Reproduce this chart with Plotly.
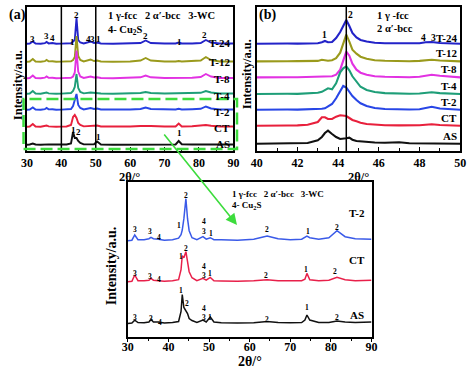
import plotly.graph_objects as go

W, H = 474, 368
FONT = "Liberation Serif"

# ---------------- data ----------------
samples = ["T-24", "T-12", "T-8", "T-4", "T-2", "CT", "AS"]
colors = ["#2323c8", "#9a9a1c", "#e232e2", "#1e9e78", "#2846e6", "#e8203c", "#111111"]

# Panel (a): full range 30-90 deg
xa = [30, 30.8, 31.7, 32.5, 34, 35.2, 35.7, 36.3, 37.4, 38.5, 40, 41.5, 42.8, 43.4, 43.9, 44.4, 44.9,
      45.5, 46.5, 48.5, 49.5, 50.4, 51.5, 55, 60, 63, 64.5, 66, 70, 73.2, 74.1, 75, 78, 80.5, 82,
      83.5, 86, 90]
ia_t24 = [0.3, 0.5, 2.5, 0.5, 0.3, 0.8, 2, 0.6, 1, 0.3, 0.4, 0.5, 0.8, 2.5, 4, 26, 4, 1.5, 0.6, 2.5, 1,
          1.5, 0.5, 0.3, 0.5, 1, 3.5, 1, 0.5, 0.5, 1.5, 0.5, 0.5, 1, 4, 1.5, 0.5, 0.5]
ia_t12 = [0.3, 0.5, 3, 0.5, 0.3, 0.8, 2, 0.6, 0.8, 0.3, 0.4, 0.5, 0.8, 2, 5, 26, 6, 2, 0.6, 2.5, 1,
          1.5, 0.5, 0.3, 0.5, 1.5, 4, 1.5, 0.5, 0.5, 1, 0.5, 0.8, 1.5, 5, 2, 0.5, 0.5]
ia_t8 = [0.3, 0.5, 3, 0.5, 0.3, 0.8, 2, 0.6, 0.8, 0.3, 0.4, 0.5, 0.8, 2, 6, 28, 7, 2, 0.6, 2, 1,
         1.2, 0.5, 0.3, 0.5, 1.2, 3, 1.2, 0.5, 0.5, 1, 0.5, 0.8, 1.5, 4.5, 2, 0.5, 0.5]
ia_t4 = [0.3, 0.5, 3, 0.5, 0.3, 0.8, 1.5, 0.6, 0.8, 0.3, 0.4, 0.5, 1, 3, 7, 20, 6, 2, 0.6, 1.5, 1,
         1.2, 0.5, 0.3, 0.5, 1, 2, 1, 0.5, 0.5, 1, 0.5, 0.8, 1.2, 3, 1.5, 0.5, 0.5]
ia_t2 = [0.3, 0.5, 2.5, 0.5, 0.3, 0.8, 2, 0.6, 0.8, 0.3, 0.4, 0.5, 1, 4, 9, 16, 5, 2, 0.6, 2, 1,
         1.5, 0.5, 0.3, 0.5, 1, 2.5, 1, 0.5, 0.5, 1.2, 0.5, 0.8, 1.2, 3.5, 1.5, 0.5, 0.5]
ia_ct = [0.3, 0.5, 3, 0.5, 0.3, 0.8, 1.5, 0.6, 0.8, 0.3, 0.4, 0.5, 2, 10, 12, 9, 4, 2, 0.6, 1.2, 1,
         1.5, 0.5, 0.3, 0.5, 1, 1.2, 1, 0.5, 0.5, 3.5, 0.5, 0.8, 1.2, 2, 1.2, 0.5, 0.5]
ia_as = [0.3, 0.5, 1.5, 0.5, 0.3, 0.6, 1, 0.6, 0.5, 0.3, 0.3, 0.5, 1.5, 13, 7, 7, 4, 2, 0.6, 1, 0.8,
         3.5, 0.5, 0.3, 0.3, 0.5, 1, 0.5, 0.3, 0.5, 4, 0.8, 0.5, 0.6, 1, 0.6, 0.5, 0.5]
offsets_a = [107, 89, 72.5, 57, 41, 24, 6]

# Panel (b): zoom 40-50 deg
xb = [40, 40.5, 41, 41.5, 42, 42.5, 43, 43.2, 43.35, 43.5, 43.7, 43.9, 44.1, 44.25, 44.4, 44.55,
      44.7, 44.9, 45.1, 45.4, 45.8, 46.3, 47, 47.5, 48, 48.3, 48.6, 49, 49.5, 50]
ib_t24 = [0.3, 0.6, 0.3, 0.5, 0.4, 0.6, 0.8, 1.7, 3, 1.7, 2, 6, 12, 18, 24, 18, 11, 6.5, 4, 2.5,
          1.3, 0.8, 0.6, 0.5, 0.8, 1.7, 2, 1, 0.6, 0.3]
ib_t12 = [0.3, 0.6, 0.3, 0.5, 0.6, 0.5, 0.8, 2, 1.5, 1, 1.5, 3.5, 9, 18, 27, 20, 12, 8, 5, 3,
          1.5, 1, 0.6, 0.5, 0.8, 1.5, 2, 1.2, 0.6, 0.3]
ib_t8 = [0.3, 0.6, 0.3, 0.5, 0.4, 0.6, 0.8, 1, 1.5, 1.5, 1.5, 3, 8, 17, 26, 22, 14, 8, 5, 3,
         1.5, 1, 0.6, 0.5, 1, 2, 3, 2, 0.8, 0.3]
ib_t4 = [0.3, 0.6, 0.3, 0.5, 0.4, 0.6, 1.5, 2.5, 4, 6, 5, 11, 22, 26, 28, 24, 18, 12.5, 7.5, 4.3,
         2.3, 1.2, 0.6, 0.5, 0.8, 1.5, 2, 1.2, 0.6, 0.3]
ib_t2 = [0.3, 0.6, 0.3, 0.5, 0.4, 0.6, 0.8, 1.2, 1.7, 3.3, 6, 11.7, 19, 24, 22.5, 18, 14, 10, 6.7, 4,
         2, 1, 0.6, 0.5, 0.8, 2, 3.3, 1.5, 0.6, 0.3]
ib_ct = [0.3, 0.6, 0.3, 0.5, 0.6, 1.3, 4, 8.7, 8.7, 7, 7, 9.3, 10.7, 10.7, 10, 8, 6, 4.7, 3.3, 2,
         1.2, 0.8, 0.6, 0.5, 0.8, 1.2, 1.7, 1, 0.6, 0.3]
ib_as = [0.3, 0.5, 0.3, 0.5, 0.5, 1, 3.7, 7, 11, 13.3, 10, 7, 5, 5, 5.7, 6.3, 4.3, 3, 2.7, 1.7,
         1.5, 1.2, 1.7, 0.8, 0.6, 0.6, 0.8, 0.6, 0.5, 0.3]
offsets_b = [107, 89.3, 73.3, 56.7, 41, 25, 7]

# Panel (c): T-2, CT, AS enlarged
samples_c = ["T-2", "CT", "AS"]
colors_c = ["#3a5ae8", "#e8204a", "#111111"]
xc = [30, 31, 31.7, 32.5, 34, 35.2, 35.7, 36.3, 37.5, 39, 41, 42.5, 43.1, 43.4, 43.8, 44.3, 44.7,
      45.1, 45.8, 47, 48.5, 49.3, 50.3, 51.2, 53, 57, 61, 64.3, 67, 70, 72.8, 73.6, 74.1, 74.8, 77,
      79.5, 81.5, 83.5, 86, 90]
ic_t2 = [0, 0.5, 5.7, 1, 1, 2, 3.3, 2, 1.5, 0.5, 1, 2.5, 6, 10.7, 22, 42, 22, 10, 3, 1, 4, 1.5, 3,
         1, 1, 0.5, 1.5, 4.7, 2, 1, 1.5, 3, 4.5, 3, 1.5, 3, 10, 4, 2, 1.5]
ic_ct = [0, 0.5, 6.7, 1, 1, 1.5, 3.3, 1.5, 1, 0.5, 1, 2, 12, 26, 24, 30, 20, 10, 4, 1, 3.3, 1.5,
         4.3, 1, 0.8, 0.5, 1, 2, 1, 0.8, 1, 2.5, 8.3, 2, 1, 1.5, 4.3, 2, 1, 1.5]
ic_as = [0, 0.5, 3.3, 1, 0.8, 1.5, 4, 1.5, 1.5, 0.5, 1, 2, 12, 29, 16, 13, 10, 5, 3, 1, 3.5, 1.5,
         6.5, 1.5, 0.8, 0.5, 0.8, 2, 1, 0.8, 1, 3.5, 8.5, 3.5, 1, 1, 2.5, 1.5, 1, 1.5]
offsets_c = [96.3, 55.3, 13.5]

legend_main = "1 γ-fcc   2 α′-bcc   3-WC"
legend_cu = "4- Cu<sub>2</sub>S"

# peak labels: (2theta, y, text)
peaks_a = [(31.6, 112, "3"), (35.8, 115, "3"), (37.5, 113, "4"), (43.2, 109, "1"), (44.3, 136, "2"),
           (48.0, 112, "4"), (49.1, 112, "3"), (50.8, 112, "1"), (64.4, 115, "2"), (74.3, 109, "1"),
           (81.7, 116, "2"), (43.5, 21, "1"), (44.9, 19, "2"), (50.8, 14, "1"), (74.2, 18, "1")]
peaks_b = [(43.35, 116, "1"), (44.6, 136, "2"), (48.2, 113, "4"), (48.7, 113, "3")]
peaks_c = [(31.7, 108, "3"), (35.5, 106, "3"), (37.7, 100, "4"), (42.7, 112, "1"), (44.2, 142, "2"),
           (48.7, 115.5, "4"), (48.7, 106, "3"), (50.4, 104, "1"), (64.3, 108, "2"), (74.4, 106, "1"),
           (81.6, 110, "2"),
           (31.7, 64, "3"), (35.5, 61, "3"), (37.7, 58, "4"), (43.0, 81, "1"), (44.2, 89, "2"),
           (48.7, 71, "4"), (48.7, 61.5, "3"), (50.2, 64, "1"), (64.1, 62, "2"), (73.9, 68, "1"),
           (81.1, 66, "2"),
           (31.7, 20, "3"), (35.8, 19, "3"), (37.9, 15, "4"), (43.0, 47, "1"), (44.6, 34, "2"),
           (48.7, 29, "4"), (48.7, 19.5, "3"), (50.2, 20, "1"), (64.3, 18, "2"), (74.2, 30, "1"),
           (81.4, 20, "2")]
label_y_a = [108, 89, 72, 55, 39, 23, 7]
label_y_b = [112.7, 97.7, 81.7, 65.3, 49.3, 32.7, 15]
label_y_c = [124, 77, 22]

ia = [ia_t24, ia_t12, ia_t8, ia_t4, ia_t2, ia_ct, ia_as]
ib = [ib_t24, ib_t12, ib_t8, ib_t4, ib_t2, ib_ct, ib_as]
ic = [ic_t2, ic_ct, ic_as]

fig = go.Figure()
for name, col, vals, off in zip(samples, colors, ia, offsets_a):
    fig.add_trace(go.Scatter(x=xa, y=[v + off for v in vals], mode="lines", name=name,
                             line=dict(color=col, width=1.9), xaxis="x", yaxis="y"))
for name, col, vals, off in zip(samples, colors, ib, offsets_b):
    fig.add_trace(go.Scatter(x=xb, y=[v + off for v in vals], mode="lines", name=name,
                             line=dict(color=col, width=2.1), xaxis="x2", yaxis="y2"))
for name, col, vals, off in zip(samples_c, colors_c, ic, offsets_c):
    fig.add_trace(go.Scatter(x=xc, y=[v + off for v in vals], mode="lines", name=name,
                             line=dict(color=col, width=1.5), xaxis="x3", yaxis="y3"))

def px(x):
    return x / W

def py(y):
    return 1 - y / H

frame = dict(showline=True, mirror=True, linecolor="black", linewidth=1.5, showgrid=False,
             zeroline=False)
tf = dict(family=FONT, size=12, color="black", weight="bold")

fig.update_layout(
    width=W, height=H, margin=dict(l=0, r=0, t=0, b=0), showlegend=False,
    paper_bgcolor="white", plot_bgcolor="white",
    xaxis=dict(domain=[px(21.5), px(233.3)], range=[30, 90], anchor="y", tickvals=[30, 40, 50, 60, 70, 80, 90],
               ticks="inside", ticklen=4, tickwidth=1.2, tickcolor="black", tickfont=tf,
               ticklabelstandoff=0,
               minor=dict(tickvals=[35, 45, 55, 65, 75, 85], ticks="inside", ticklen=3, tickcolor="black"),
               **frame),
    yaxis=dict(domain=[py(151), py(7)], range=[0, 144], anchor="x", showticklabels=False, ticks="",
               **frame),
    xaxis2=dict(domain=[px(257.3), px(466)], range=[40, 50], anchor="y2", tickvals=[40, 42, 44, 46, 48, 50],
                ticks="inside", ticklen=4, tickwidth=1.2, tickcolor="black", tickfont=tf,
                ticklabelstandoff=0,
                minor=dict(tickvals=[41, 43, 45, 47, 49], ticks="inside", ticklen=3, tickcolor="black"),
                **frame),
    yaxis2=dict(domain=[py(151), py(7)], range=[0, 144], anchor="x2", showticklabels=False, ticks="",
                **frame),
    xaxis3=dict(domain=[px(125), px(375)], range=[30, 90], anchor="y3", tickvals=[30, 40, 50, 60, 70, 80, 90],
                ticks="outside", ticklen=3, tickwidth=1.2, tickcolor="black",
                tickfont=dict(family=FONT, size=12, color="black", weight="bold"),
                ticklabelstandoff=-5,
                minor=dict(tickvals=[35, 45, 55, 65, 75, 85], ticks="outside", ticklen=2, tickcolor="black"),
                **frame),
    yaxis3=dict(domain=[py(337), py(182)], range=[0, 155], anchor="x3", showticklabels=False, ticks="",
                **frame),
)

shapes = [
    dict(type="line", xref="x", yref="y domain", x0=40, x1=40, y0=0, y1=1, line=dict(color="black", width=1.5)),
    dict(type="line", xref="x", yref="y domain", x0=50, x1=50, y0=0, y1=1, line=dict(color="black", width=1.5)),
    dict(type="line", xref="x2", yref="y2 domain", x0=44.4, x1=44.4, y0=0, y1=1, line=dict(color="black", width=1.5)),
    dict(type="rect", xref="paper", yref="paper", x0=px(18), x1=px(237), y0=py(149), y1=py(99),
         line=dict(color="#3ddc3d", width=2.5, dash="12px,5px")),
]
fig.update_layout(shapes=shapes)

ann = []
def txt(x, y, t, size, xref="paper", yref="paper", xanchor="center", angle=0):
    ann.append(dict(x=x, y=y, xref=xref, yref=yref, text=t, showarrow=False, xanchor=xanchor,
                    yanchor="middle", textangle=angle,
                    font=dict(family=FONT, size=size, color="black", weight="bold")))

# panel labels / axis titles
txt(px(11.5), py(15), "(a)", 14)
txt(px(268), py(15), "(b)", 14)
txt(px(127), py(176.5), "2θ/°", 12.5)
txt(px(361.5), py(176.5), "2θ/°", 12.5)
txt(px(250), py(361), "2θ/°", 14)
txt(px(12.5), py(85), "Intensity/a.u.", 12.5, angle=-90)
txt(px(247.5), py(74), "Intensity/a.u.", 12.5, angle=-90)
txt(px(108), py(266), "Intensity/a.u.", 14, angle=-90)

# legends inside panels
txt(53.1, 136, legend_main, 10.5, "x", "y", "left")
txt(53.1, 121, legend_cu, 10.5, "x", "y", "left")
txt(45.8, 136, "1 γ -fcc", 10.5, "x2", "y2", "left")
txt(45.8, 123, "2 α′-bcc", 10.5, "x2", "y2", "left")
txt(55.2, 143, legend_main, 9, "x3", "y3", "left")
txt(55.2, 132, legend_cu, 9, "x3", "y3", "left")

for name, yv in zip(samples, label_y_a):
    txt(89.6, yv, name, 11, "x", "y", "right")
for name, yv in zip(samples, label_y_b):
    txt(49.95, yv, name, 11, "x2", "y2", "right")
for name, yv in zip(samples_c, label_y_c):
    txt(86.4, yv, name, 11, "x3", "y3", "center")

for (xv, yv, t) in peaks_a:
    txt(xv, yv, t, 9, "x", "y")
for (xv, yv, t) in peaks_b:
    txt(xv, yv, t, 9.5, "x2", "y2")
for (xv, yv, t) in peaks_c:
    txt(xv, yv, t, 7.5, "x3", "y3")

# green arrow
ann.append(dict(x=px(237), y=py(225), xref="paper", yref="paper", ax=-74, ay=-92, text="",
                showarrow=True, arrowhead=2, arrowsize=1.4, arrowwidth=1.6, arrowcolor="#3ddc3d"))
fig.update_layout(annotations=ann)

fig.write_html("out.html", config={"displayModeBar": False},
               post_script="document.body.style.margin='0';")
